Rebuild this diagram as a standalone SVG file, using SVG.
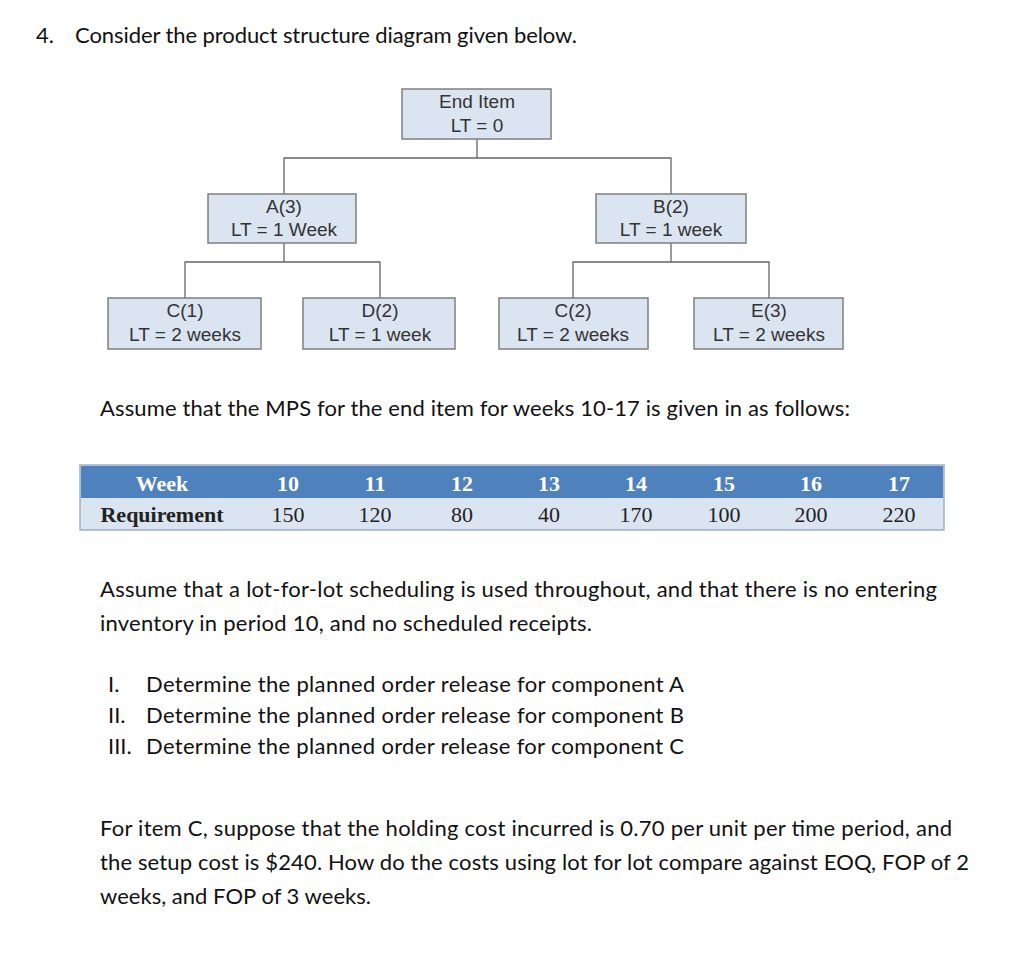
<svg xmlns="http://www.w3.org/2000/svg" width="1024" height="977" viewBox="0 0 1024 977">
<style>
.b{fill:#dbe5f1;stroke:#7f7f7f;stroke-width:1.5}
.n{font-family:"Liberation Sans",Arial,sans-serif;font-size:19px;fill:#333;text-anchor:middle}
.t{font-family:Lato,"Open Sans",sans-serif;font-size:22px;fill:#111}
.c{stroke:#666;stroke-width:1.3;fill:none}
.h{font-family:"Liberation Serif",serif;font-size:22px;font-weight:bold;fill:#fff;text-anchor:middle}
.r{font-family:"Liberation Serif",serif;font-size:22px;fill:#222;text-anchor:middle}
</style>
<rect width="1024" height="977" fill="#fff"/>
<text class="t" x="36" y="43">4.</text>
<text class="t" x="75" y="43" textLength="502">Consider the product structure diagram given below.</text>
<g id="connectors">
<path class="c" d="M477 139V158M284 194V158H671V194M284 243V262M185 298V262H380V298M671 243V262M573 298V262H769V298"/>
</g>
<g id="end"><rect class="b" x="402" y="89" width="149" height="50"/><text class="n" x="477" y="108">End Item</text><text class="n" x="477" y="132">LT = 0</text></g>
<g id="a"><rect class="b" x="208" y="194" width="148" height="49"/><text class="n" x="284" y="213">A(3)</text><text class="n" x="284" y="236">LT = 1 Week</text></g>
<g id="b"><rect class="b" x="596" y="194" width="150" height="49"/><text class="n" x="671" y="213">B(2)</text><text class="n" x="671" y="236">LT = 1 week</text></g>
<g id="c1"><rect class="b" x="108" y="298" width="153" height="51"/><text class="n" x="185" y="317">C(1)</text><text class="n" x="185" y="341">LT = 2 weeks</text></g>
<g id="d2"><rect class="b" x="303" y="298" width="152" height="51"/><text class="n" x="380" y="317">D(2)</text><text class="n" x="380" y="341">LT = 1 week</text></g>
<g id="c2"><rect class="b" x="499" y="298" width="149" height="51"/><text class="n" x="573" y="317">C(2)</text><text class="n" x="573" y="341">LT = 2 weeks</text></g>
<g id="e3"><rect class="b" x="694" y="298" width="149" height="51"/><text class="n" x="769" y="317">E(3)</text><text class="n" x="769" y="341">LT = 2 weeks</text></g>
<text class="t" x="100" y="416" textLength="750">Assume that the MPS for the end item for weeks 10-17 is given in as follows:</text>
<g id="table">
<rect x="80" y="465" width="864" height="65" fill="#dbe5f1" stroke="#9bb0cc" stroke-width="1.5"/>
<rect x="81" y="466" width="862" height="32" fill="#4f81bd"/>
<text class="h" x="162" y="491">Week</text><text class="h" x="288" y="491">10</text><text class="h" x="375" y="491">11</text><text class="h" x="462" y="491">12</text><text class="h" x="549" y="491">13</text><text class="h" x="636" y="491">14</text><text class="h" x="724" y="491">15</text><text class="h" x="811" y="491">16</text><text class="h" x="899" y="491">17</text>
<text class="r" x="162" y="522" font-weight="bold" fill="#111">Requirement</text><text class="r" x="288" y="522">150</text><text class="r" x="375" y="522">120</text><text class="r" x="462" y="522">80</text><text class="r" x="549" y="522">40</text><text class="r" x="636" y="522">170</text><text class="r" x="724" y="522">100</text><text class="r" x="811" y="522">200</text><text class="r" x="899" y="522">220</text>
</g>
<text class="t" x="100" y="597" textLength="837">Assume that a lot-for-lot scheduling is used throughout, and that there is no entering</text>
<text class="t" x="100" y="631" textLength="492">inventory in period 10, and no scheduled receipts.</text>
<text class="t" x="108" y="692" font-family="Liberation Serif">I.</text><text class="t" x="146" y="692" textLength="538">Determine the planned order release for component A</text>
<text class="t" x="108" y="723" font-family="Liberation Serif">II.</text><text class="t" x="146" y="723" textLength="538">Determine the planned order release for component B</text>
<text class="t" x="108" y="754" font-family="Liberation Serif">III.</text><text class="t" x="146" y="754" textLength="538">Determine the planned order release for component C</text>
<text class="t" x="100" y="836" textLength="852">For item C, suppose that the holding cost incurred is 0.70 per unit per time period, and</text>
<text class="t" x="100" y="870" textLength="869">the setup cost is $240.  How do the costs using lot for lot compare against EOQ, FOP of 2</text>
<text class="t" x="100" y="904" textLength="271">weeks, and FOP of 3 weeks.</text>
</svg>
